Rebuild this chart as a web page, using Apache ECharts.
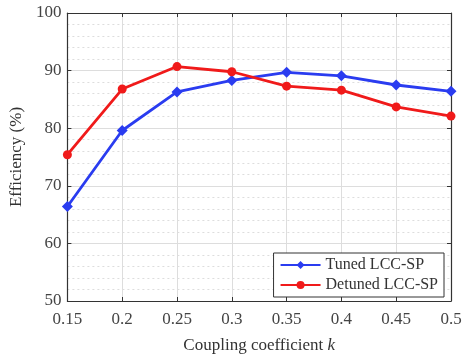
<!DOCTYPE html>
<html><head><meta charset="utf-8">
<script src="https://cdn.jsdelivr.net/npm/echarts@6/dist/echarts.min.js"></script>
<style>html,body{margin:0;padding:0;background:#fff}#c{width:474px;height:359px}</style>
</head><body><div id="c"></div>
<script>
const kValues = [0.15, 0.2, 0.25, 0.3, 0.35, 0.4, 0.45, 0.5];
const tuned = [66.4, 79.6, 86.3, 88.3, 89.7, 89.1, 87.5, 86.4];
const detuned = [75.4, 86.8, 90.7, 89.8, 87.3, 86.6, 83.7, 82.1];
const seriesNames = ['Tuned LCC-SP', 'Detuned LCC-SP'];
const yTicks = [50, 60, 70, 80, 90, 100];

const FONT = 'Liberation Serif';
const chart = echarts.init(document.getElementById('c'));
const fmtX = v => String(+v.toFixed(2));
const frameLine = {show: true, lineStyle: {color: '#333', width: 1.2}};
chart.setOption({
  animation: false,
  grid: {left: 58, right: 23, top: 13, bottom: 56},
  xAxis: [{
    type: 'value', min: kValues[0], max: kValues[kValues.length - 1], interval: 0.05,
    axisLine: frameLine,
    axisTick: {show: true, inside: true, length: 4, lineStyle: {color: '#333'}},
    axisLabel: {formatter: fmtX, fontFamily: FONT, fontSize: 17, color: '#444', margin: 10},
    splitLine: {show: true, lineStyle: {color: '#ddd', width: 1}},
    name: 'Coupling coefficient {i|k}', nameLocation: 'middle', nameGap: 36,
    nameTextStyle: {fontFamily: FONT, fontSize: 17, color: '#333',
      rich: {i: {fontFamily: FONT, fontSize: 17, fontStyle: 'italic', color: '#333'}}}
  }, {
    type: 'value', position: 'top', min: kValues[0], max: kValues[kValues.length - 1], interval: 0.05,
    axisLine: frameLine,
    axisTick: {show: true, inside: true, length: 4, lineStyle: {color: '#333'}},
    axisLabel: {show: false}, splitLine: {show: false}
  }],
  yAxis: [{
    type: 'value', min: yTicks[0], max: yTicks[yTicks.length - 1], interval: 10,
    axisLine: frameLine,
    axisTick: {show: true, inside: true, length: 4, lineStyle: {color: '#333'}},
    axisLabel: {fontFamily: FONT, fontSize: 17, color: '#444', margin: 6},
    splitLine: {show: true, lineStyle: {color: '#ddd', width: 1}},
    minorTick: {show: false, splitNumber: 5},
    minorSplitLine: {show: true, lineStyle: {color: '#ddd', type: [2, 3], width: 1}},
    name: 'Efficiency (%)', nameLocation: 'middle', nameGap: 37, nameRotate: 90,
    nameTextStyle: {fontFamily: FONT, fontSize: 17, color: '#333'}
  }, {
    type: 'value', position: 'right', min: yTicks[0], max: yTicks[yTicks.length - 1], interval: 10,
    axisLine: frameLine,
    axisTick: {show: true, inside: true, length: 4, lineStyle: {color: '#333'}},
    axisLabel: {show: false}, splitLine: {show: false}
  }],
  legend: {
    right: 30, bottom: 62, orient: 'vertical',
    backgroundColor: '#fff', borderColor: '#333', borderWidth: 1,
    padding: [4, 6, 4, 6], itemGap: 4, itemWidth: 40, itemHeight: 10,
    textStyle: {fontFamily: FONT, fontSize: 16, color: '#333'},
    data: seriesNames
  },
  series: [{
    name: seriesNames[0], type: 'line', symbol: 'diamond', symbolSize: 11,
    data: kValues.map((k, i) => [k, tuned[i]]),
    lineStyle: {color: '#2a3cf0', width: 2.8}, itemStyle: {color: '#2a3cf0'}
  }, {
    name: seriesNames[1], type: 'line', symbol: 'circle', symbolSize: 9,
    data: kValues.map((k, i) => [k, detuned[i]]),
    lineStyle: {color: '#f01a1a', width: 2.8}, itemStyle: {color: '#f01a1a'}
  }]
});
</script></body></html>
